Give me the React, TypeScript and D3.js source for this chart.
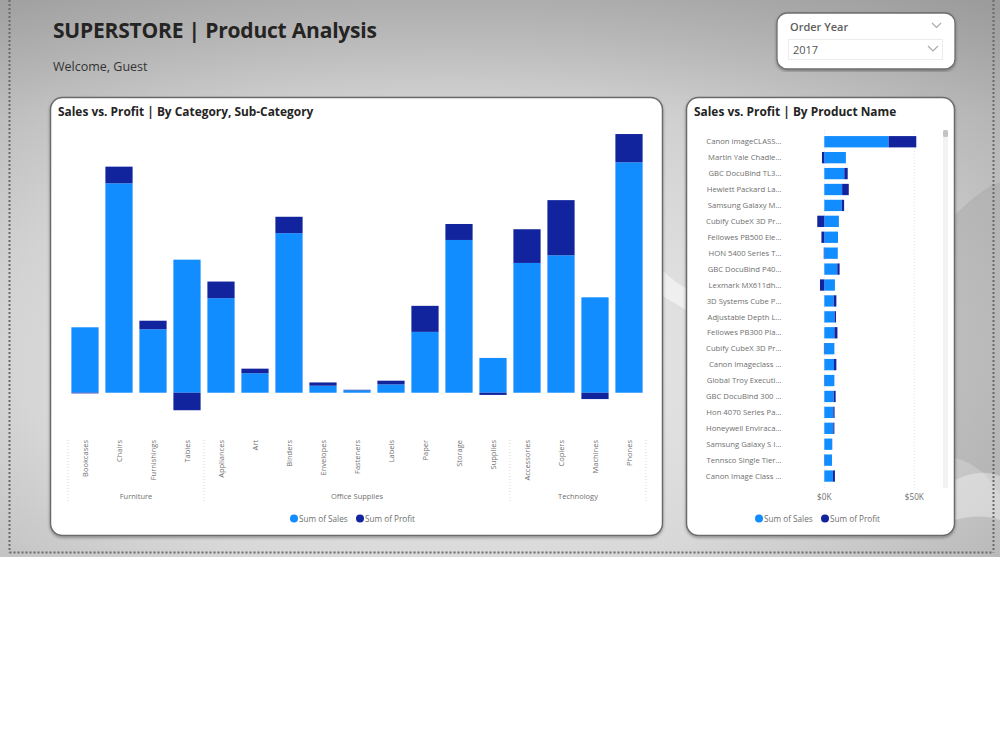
import React from "react";
import * as d3 from "d3";

// ---------- Data ----------
const subCategories = ["Bookcases","Chairs","Furnishings","Tables","Appliances","Art","Binders","Envelopes","Fasteners","Labels","Paper","Storage","Supplies","Accessories","Copiers","Machines","Phones"];
const categoryOf = ["Furniture","Furniture","Furniture","Furniture","Office Supplies","Office Supplies","Office Supplies","Office Supplies","Office Supplies","Office Supplies","Office Supplies","Office Supplies","Office Supplies","Technology","Technology","Technology","Technology"];
const categories = ["Furniture","Office Supplies","Technology"];
const subSales = [29900,95700,29000,60800,43200,8900,72900,3200,1100,3800,27800,69800,15900,59300,62800,43600,105300];
const subProfit = [-300,7600,3900,-8000,7600,2100,7500,1500,250,1700,11900,7300,-1000,15400,25200,-2900,12900];

const products = ["Canon imageCLASS...","Martin Yale Chadle...","GBC DocuBind TL3...","Hewlett Packard La...","Samsung Galaxy M...","Cubify CubeX 3D Pr...","Fellowes PB500 Ele...","HON 5400 Series T...","GBC DocuBind P40...","Lexmark MX611dh...","3D Systems Cube P...","Adjustable Depth L...","Fellowes PB300 Pla...","Cubify CubeX 3D Pr... ","Canon Imageclass ...","Global Troy Executi...","GBC DocuBind 300 ...","Hon 4070 Series Pa...","Honeywell Enviraca...","Samsung Galaxy S I...","Tennsco Single Tier...","Canon Image Class ..."];
const prodSales = [35700,12000,11100,9900,9700,8100,7600,7500,7200,5900,5200,5700,5600,5600,5400,5600,5200,5000,5000,4300,4300,4800];
const prodProfit = [15400,-1300,1900,3700,1300,-3900,-1600,-300,1300,-2400,1500,800,1700,-200,1300,-100,1100,700,600,100,-100,1100];

const xTicks = [0, 50000];
const seriesNames = ["Sum of Sales", "Sum of Profit"];

const SALES = "#118DFF";
const PROFIT = "#12239E";
const FONT = "'Open Sans', 'Noto Sans', sans-serif";

type Row = { name: string; sales: number; profit: number };

export default function App() {
  // ---- left chart scales ----
  const leftRows: Row[] = subCategories.map((s, i) => ({ name: s, sales: subSales[i], profit: subProfit[i] }));
  const stackL = d3.stack<Row>().keys(["sales", "profit"]).value((d, k) => (d as any)[k]).offset(d3.stackOffsetDiverging)(leftRows);
  const x = d3.scaleBand<string>().domain(subCategories).range([62.9, 651.1]).paddingInner(0.2).paddingOuter(0.25);
  const y = d3.scaleLinear().domain([-20000, 120000]).range([436.5, 130.1]);
  const step = x.step();

  // ---- right chart scales ----
  const rightRows: Row[] = products.map((p, i) => ({ name: p, sales: prodSales[i], profit: prodProfit[i] }));
  const stackR = d3.stack<Row>().keys(["sales", "profit"]).value((d, k) => (d as any)[k]).offset(d3.stackOffsetDiverging)(rightRows);
  const py = d3.scaleBand<string>().domain(products).range([133.7, 484.1]).paddingInner(0.29).paddingOuter(0.15);
  const px = d3.scaleLinear().domain([-10000, 60000]).range([806.3, 932.3]);
  const fmtK = (v: number) => `$${d3.format(",.0f")(v / 1000)}K`;

  const colors = [SALES, PROFIT];

  const groupBounds = categories.map((c) => {
    const idx = categoryOf.map((g, i) => (g === c ? i : -1)).filter((i) => i >= 0);
    const first = x(subCategories[idx[0]])! - (step - x.bandwidth()) / 2;
    const last = x(subCategories[idx[idx.length - 1]])! + x.bandwidth() + (step - x.bandwidth()) / 2;
    return { c, first, last };
  });
  const sepXs = [groupBounds[0].first, ...groupBounds.map((g) => g.last)];

  return (
    <svg width={1000} height={750} style={{ position: "absolute", left: 0, top: 0, fontFamily: FONT }}>
      <defs>
        <radialGradient id="bg" cx="0.45" cy="0.6" r="0.8">
          <stop offset="0" stopColor="#f2f2f2" />
          <stop offset="0.55" stopColor="#d8d8d8" />
          <stop offset="1" stopColor="#aaaaaa" />
        </radialGradient>
        <linearGradient id="topShade" x1="0" y1="0" x2="0" y2="1">
          <stop offset="0" stopColor="#7a7a7a" stopOpacity="0.3" />
          <stop offset="0.2" stopColor="#7a7a7a" stopOpacity="0.08" />
          <stop offset="1" stopColor="#7a7a7a" stopOpacity="0" />
        </linearGradient>
        <filter id="shadow" x="-5%" y="-5%" width="110%" height="110%">
          <feDropShadow dx="0" dy="1.5" stdDeviation="1.5" floodColor="#000" floodOpacity="0.35" />
        </filter>
      </defs>

      {/* background */}
      <rect x={0} y={0} width={1000} height={557} fill="url(#bg)" />
      <rect x={0} y={0} width={1000} height={557} fill="url(#topShade)" />
      <path d="M 955 215 C 975 195, 990 185, 1000 182 L 1000 495 C 985 470, 970 462, 955 458 Z" fill="#999" opacity="0.3" />
      <path d="M 955 480 C 975 470, 990 472, 1000 476 L 1000 520 C 985 515, 970 516, 955 520 Z" fill="#ffffff" opacity="0.35" />
      <path d="M 662 270 C 670 278, 680 285, 686 288 L 686 310 C 678 305, 670 300, 662 296 Z" fill="#ffffff" opacity="0.5" />
      {/* dotted frame */}
      <line x1={9.5} y1={0} x2={9.5} y2={552.5} stroke="#6a6a6a" strokeWidth={2} strokeDasharray="2,2" />
      <line x1={993.5} y1={0} x2={993.5} y2={552.5} stroke="#6a6a6a" strokeWidth={2} strokeDasharray="2,2" />
      <line x1={9.5} y1={552.5} x2={993.5} y2={552.5} stroke="#6a6a6a" strokeWidth={2} strokeDasharray="2,2" />

      {/* title */}
      <text x={53} y={38} fontSize={21} fontWeight={700} fill="#252423" letterSpacing={-0.2}>SUPERSTORE | Product Analysis</text>
      <text x={53} y={71} fontSize={12.5} fill="#333">Welcome, Guest</text>

      {/* slicer */}
      <rect x={777} y={13} width={178} height={56} rx={10} fill="#fff" stroke="#6e6e6e" strokeWidth={1.3} filter="url(#shadow)" />
      <text x={790} y={31} fontSize={11} fill="#605e5c" fontWeight={600}>Order Year</text>
      <path d="M 932 23 L 936.5 27.5 L 941 23" fill="none" stroke="#aaa" strokeWidth={1.2} />
      <rect x={788.5} y={39.5} width={154} height={20} fill="#fff" stroke="#ececec" />
      <text x={793} y={54} fontSize={11} fill="#555">2017</text>
      <path d="M 928 46 L 933 51 L 938 46" fill="none" stroke="#aaa" strokeWidth={1.2} />

      {/* left panel */}
      <rect x={50.5} y={97.5} width={612} height={438} rx={12} fill="#fff" stroke="#6b6b6b" strokeWidth={1.5} filter="url(#shadow)" />
      <text x={58} y={116} fontSize={11.9} fontWeight={700} fill="#252423">Sales vs. Profit | By Category, Sub-Category</text>
      <g>
        {stackL.map((layer, li) =>
          layer.map((d, i) => (
            <rect key={`${li}-${i}`} x={x(subCategories[i])} width={x.bandwidth()}
              y={y(Math.max(d[0], d[1]))} height={Math.abs(y(d[0]) - y(d[1]))} fill={colors[li]} />
          ))
        )}
      </g>
      {/* category axis */}
      {sepXs.map((sx, i) => (
        <line key={i} x1={sx} x2={sx} y1={440} y2={502} stroke="#d6d6d6" strokeDasharray="1,2" />
      ))}
      {subCategories.map((s) => (
        <text key={s} transform={`translate(${x(s)! + x.bandwidth() / 2},440) rotate(-90)`} textAnchor="end" dy="0.35em" fontSize={7.5} fill="#6f6f6f">{s}</text>
      ))}
      {groupBounds.map((g) => (
        <text key={g.c} x={(g.first + g.last) / 2} y={498.5} textAnchor="middle" fontSize={7.5} fill="#6f6f6f">{g.c}</text>
      ))}
      {/* left legend */}
      <circle cx={294} cy={518.5} r={4} fill={SALES} />
      <text x={299} y={521.5} fontSize={8.2} fill="#6f6f6f">{seriesNames[0]}</text>
      <circle cx={360} cy={518.5} r={4} fill={PROFIT} />
      <text x={365} y={521.5} fontSize={8.2} fill="#6f6f6f">{seriesNames[1]}</text>

      {/* right panel */}
      <rect x={686.5} y={97.5} width={268} height={438} rx={12} fill="#fff" stroke="#6b6b6b" strokeWidth={1.5} filter="url(#shadow)" />
      <text x={694} y={116} fontSize={11.9} fontWeight={700} fill="#252423">Sales vs. Profit | By Product Name</text>
      {xTicks.map((t) => (
        <line key={t} x1={px(t)} x2={px(t)} y1={130} y2={488} stroke="#e2e2e2" strokeDasharray="1,2" />
      ))}
      {stackR.map((layer, li) =>
        layer.map((d, i) => (
          <rect key={`r${li}-${i}`} y={py(products[i])} height={py.bandwidth()}
            x={px(Math.min(d[0], d[1]))} width={Math.abs(px(d[1]) - px(d[0]))} fill={colors[li]} />
        ))
      )}
      {products.map((p) => (
        <text key={p} x={781.5} y={py(p)! + py.bandwidth() / 2} dy="0.35em" textAnchor="end" fontSize={7.7} fill="#6f6f6f">{p.trim()}</text>
      ))}
      {xTicks.map((t) => (
        <text key={`t${t}`} x={px(t)} y={499.5} textAnchor="middle" fontSize={8.2} fill="#6f6f6f">{fmtK(t)}</text>
      ))}
      {/* scrollbar */}
      <rect x={943} y={130} width={5} height={358} fill="#f2f2f2" />
      <rect x={943} y={130} width={5} height={7} rx={1.5} fill="#c4c4c4" />
      {/* right legend */}
      <circle cx={759} cy={518.5} r={4} fill={SALES} />
      <text x={764} y={521.5} fontSize={8.2} fill="#6f6f6f">{seriesNames[0]}</text>
      <circle cx={825} cy={518.5} r={4} fill={PROFIT} />
      <text x={830} y={521.5} fontSize={8.2} fill="#6f6f6f">{seriesNames[1]}</text>
    </svg>
  );
}
